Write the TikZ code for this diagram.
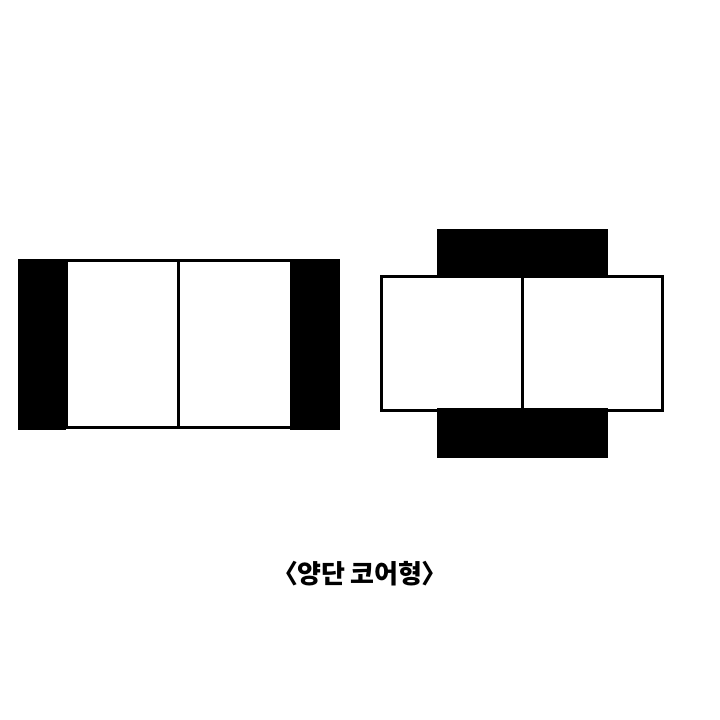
\documentclass[tikz,border=0pt]{standalone}
\usepackage{fontspec}
\newfontfamily\kofont[RawFeature=+palt]{Noto Sans CJK KR}
\begin{document}
\begin{tikzpicture}[x=1pt,y=-1pt,
  wall/.style={draw=black,line width=3pt,fill=white},
  core/.style={fill=black},
  divider/.style={draw=black,line width=3pt}]
\useasboundingbox[fill=white] (0,0) rectangle (720,720);
% left: cores at both ends
\draw[wall] (66,260.5) rectangle (291,427.5);
\draw[divider] (178.5,260.5) -- (178.5,427.5);
\fill[core] (18,259) rectangle (66,430);
\fill[core] (290,259) rectangle (340,430);
% right: cores on top and bottom
\draw[wall] (381.5,276.5) rectangle (662.5,410.5);
\draw[divider] (522,276.5) -- (522,410.5);
\fill[core] (437,229) rectangle (608,276);
\fill[core] (437,408) rectangle (608,458);
% caption
\node[font=\kofont\bfseries\fontsize{26}{30}\selectfont,inner sep=0pt] (cap) at (360,574) {〈양단 코어형〉};
\end{tikzpicture}
\end{document}
